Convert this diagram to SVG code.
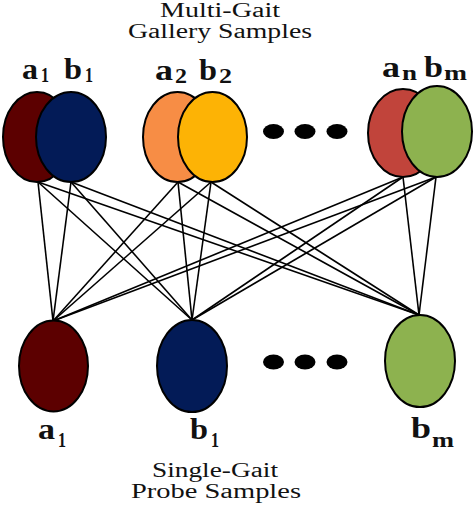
<svg xmlns="http://www.w3.org/2000/svg" width="474" height="506" viewBox="0 0 474 506">
<style>
.t{font-family:"Liberation Serif","Times New Roman",serif;font-size:20px;fill:#111}
.m{font-family:"Liberation Serif","Times New Roman",serif;font-size:30px;font-weight:bold;fill:#111}
.s{font-family:"Liberation Serif","Times New Roman",serif;font-size:20px;font-weight:bold;fill:#111}
.n{stroke:#000;stroke-width:2}
.c line{stroke:#000;stroke-width:1.6}
.dot{fill:#000}
</style>
<rect width="474" height="506" fill="#fff"/>
<g id="title-top">
<text class="t" x="160" y="16.5" textLength="120" lengthAdjust="spacingAndGlyphs">Multi-Gait</text>
<text class="t" x="128" y="38" textLength="184" lengthAdjust="spacingAndGlyphs">Gallery Samples</text>
</g>
<g id="connectors" class="c">
<line x1="38" y1="182" x2="53" y2="321"/>
<line x1="38" y1="182" x2="192" y2="320"/>
<line x1="38" y1="182" x2="419" y2="315"/>
<line x1="71" y1="182" x2="53" y2="321"/>
<line x1="71" y1="182" x2="192" y2="320"/>
<line x1="71" y1="182" x2="419" y2="315"/>
<line x1="178" y1="182" x2="53" y2="321"/>
<line x1="178" y1="182" x2="192" y2="320"/>
<line x1="178" y1="182" x2="419" y2="315"/>
<line x1="211" y1="182" x2="53" y2="321"/>
<line x1="211" y1="182" x2="192" y2="320"/>
<line x1="211" y1="182" x2="419" y2="315"/>
<line x1="403" y1="177" x2="53" y2="321"/>
<line x1="403" y1="177" x2="192" y2="320"/>
<line x1="403" y1="177" x2="419" y2="315"/>
<line x1="436" y1="177" x2="53" y2="321"/>
<line x1="436" y1="177" x2="192" y2="320"/>
<line x1="436" y1="177" x2="419" y2="315"/>
</g>
<g id="g-a1">
<ellipse class="n" cx="37" cy="137" rx="34" ry="45" fill="#5c0000"/>
<text class="m" x="22" y="79" textLength="16" lengthAdjust="spacingAndGlyphs">a</text>
<text class="s" x="41" y="82" textLength="8" lengthAdjust="spacingAndGlyphs">1</text>
</g>
<g id="g-b1">
<ellipse class="n" cx="71" cy="137" rx="35" ry="45" fill="#031b57"/>
<text class="m" x="64" y="79" textLength="18" lengthAdjust="spacingAndGlyphs">b</text>
<text class="s" x="85" y="82" textLength="8" lengthAdjust="spacingAndGlyphs">1</text>
</g>
<g id="g-a2">
<ellipse class="n" cx="177.5" cy="137" rx="34.5" ry="45" fill="#f78d45"/>
<text class="m" x="155" y="80" textLength="18" lengthAdjust="spacingAndGlyphs">a</text>
<text class="s" x="175" y="83" textLength="12" lengthAdjust="spacingAndGlyphs">2</text>
</g>
<g id="g-b2">
<ellipse class="n" cx="212.5" cy="137" rx="34.5" ry="45" fill="#fdb305"/>
<text class="m" x="199" y="80" textLength="18" lengthAdjust="spacingAndGlyphs">b</text>
<text class="s" x="219" y="83" textLength="13" lengthAdjust="spacingAndGlyphs">2</text>
</g>
<g id="dots-top">
<ellipse class="dot" cx="273.5" cy="131.5" rx="10.5" ry="7.5"/>
<ellipse class="dot" cx="305" cy="131.5" rx="10.5" ry="7.5"/>
<ellipse class="dot" cx="337" cy="131.5" rx="10.5" ry="7.5"/>
</g>
<g id="g-an">
<ellipse class="n" cx="403" cy="133" rx="35" ry="44" fill="#c1443b"/>
<text class="m" x="382" y="77" textLength="18" lengthAdjust="spacingAndGlyphs">a</text>
<text class="s" x="402" y="80" textLength="15" lengthAdjust="spacingAndGlyphs">n</text>
</g>
<g id="g-bm">
<ellipse class="n" cx="437" cy="131.5" rx="35" ry="45.5" fill="#8db24f"/>
<text class="m" x="424" y="77" textLength="19" lengthAdjust="spacingAndGlyphs">b</text>
<text class="s" x="444" y="80" textLength="23" lengthAdjust="spacingAndGlyphs">m</text>
</g>
<g id="p-a1">
<ellipse class="n" cx="53.5" cy="366" rx="34.5" ry="45.5" fill="#5c0000"/>
<text class="m" x="38" y="439" textLength="17" lengthAdjust="spacingAndGlyphs">a</text>
<text class="s" x="58" y="447" textLength="8" lengthAdjust="spacingAndGlyphs">1</text>
</g>
<g id="p-b1">
<ellipse class="n" cx="192" cy="366" rx="35" ry="46" fill="#031b57"/>
<text class="m" x="190" y="439" textLength="18" lengthAdjust="spacingAndGlyphs">b</text>
<text class="s" x="211" y="447" textLength="8" lengthAdjust="spacingAndGlyphs">1</text>
</g>
<g id="dots-bottom">
<ellipse class="dot" cx="273.5" cy="362" rx="10.5" ry="7.5"/>
<ellipse class="dot" cx="305" cy="362" rx="10.5" ry="7.5"/>
<ellipse class="dot" cx="337" cy="362" rx="10.5" ry="7.5"/>
</g>
<g id="p-bm">
<ellipse class="n" cx="420" cy="361" rx="35" ry="46" fill="#8db24f"/>
<text class="m" x="411" y="438" textLength="20" lengthAdjust="spacingAndGlyphs">b</text>
<text class="s" x="432" y="447" textLength="22" lengthAdjust="spacingAndGlyphs">m</text>
</g>
<g id="title-bottom">
<text class="t" x="152" y="476.5" textLength="126" lengthAdjust="spacingAndGlyphs">Single-Gait</text>
<text class="t" x="131" y="497.5" textLength="170" lengthAdjust="spacingAndGlyphs">Probe Samples</text>
</g>
</svg>
